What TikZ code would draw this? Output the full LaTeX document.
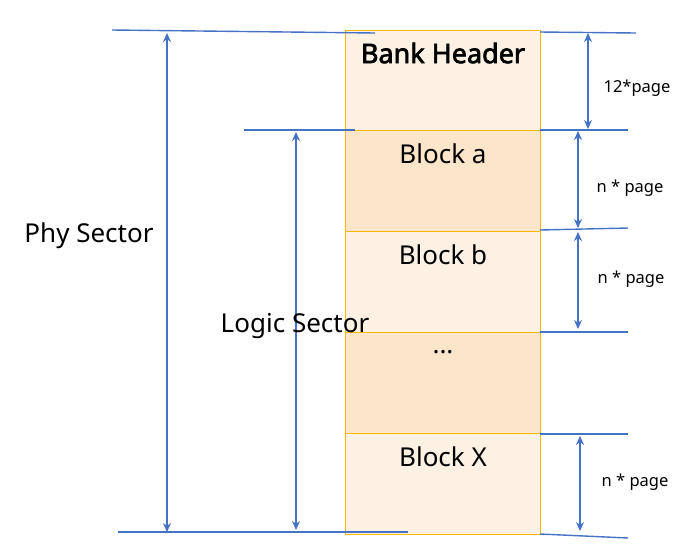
\documentclass[tikz,border=0pt]{standalone}
\usepackage{fontspec}
\setmainfont{Noto Sans}
\newfontfamily\hb{Noto Sans}[FakeBold=2.5]
\usetikzlibrary{arrows.meta}
\definecolor{bl}{HTML}{4472C4}
\definecolor{lt}{HTML}{FDF1E3}
\definecolor{dk}{HTML}{FDE5C9}
\definecolor{og}{HTML}{F5B800}
\begin{document}
\begin{tikzpicture}[x=1pt,y=-1pt,
  cell/.style={draw=og,line width=1.3pt,minimum width=195pt,minimum height=101pt,anchor=north west,inner sep=0pt},
  ln/.style={draw=bl,line width=1.4pt},
  arr/.style={draw=bl,line width=1.4pt,{Stealth[length=9pt,width=8pt]}-{Stealth[length=9pt,width=8pt]}},
  big/.style={font=\fontsize{26}{29}\selectfont},
  sm/.style={font=\fontsize{16.5}{18}\selectfont}]
\useasboundingbox (0,0) rectangle (699,558);
\node[cell,fill=lt,minimum height=100pt] (h) at (345,30) {};
\node[cell,fill=dk] (a) at (345,130) {};
\node[cell,fill=lt] (b) at (345,231) {};
\node[cell,fill=dk] (d) at (345,332) {};
\node[cell,fill=lt] (x) at (345,433) {};
\node[font=\hb\fontsize{27}{30}\selectfont] (th) at (443,53) {Bank Header};
\node[big] (ta) at (443,154) {Block a};
\node[big] (tb) at (443,255) {Block b};
\node[big] (td) at (443,352) {...};
\node[big] (tx) at (443,457) {Block X};
\coordinate (t1) at (112,30); \coordinate (t2) at (375,33);
\coordinate (b1) at (118,532); \coordinate (b2) at (408,532);
\coordinate (l1) at (244,130); \coordinate (l2) at (355,130);
\draw[ln] (t1)--(t2); \draw[ln] (b1)--(b2); \draw[ln] (l1)--(l2);
\coordinate (r0a) at (540,32); \coordinate (r0b) at (636,33);
\coordinate (r1a) at (540,130); \coordinate (r1b) at (628,130);
\coordinate (r2a) at (540,230); \coordinate (r2b) at (628,228);
\coordinate (r3a) at (540,332); \coordinate (r3b) at (628,332);
\coordinate (r4a) at (540,434); \coordinate (r4b) at (628,434);
\coordinate (r5a) at (540,534); \coordinate (r5b) at (628,538);
\foreach \i in {0,...,5} \draw[ln] (r\i a)--(r\i b);
\coordinate (p1) at (167,33); \coordinate (p2) at (167,532);
\draw[arr] (p1)--(p2);
\coordinate (q1) at (296,132); \coordinate (q2) at (296,530);
\draw[arr] (q1)--(q2);
\coordinate (s1) at (588,33); \coordinate (s2) at (588,129); \draw[arr] (s1)--(s2);
\coordinate (s3) at (578,131); \coordinate (s4) at (578,228); \draw[arr] (s3)--(s4);
\coordinate (s5) at (578,232); \coordinate (s6) at (578,329); \draw[arr] (s5)--(s6);
\coordinate (s7) at (580,436); \coordinate (s8) at (580,531); \draw[arr] (s7)--(s8);
\node[big] (lp) at (89,236) {Phy Sector};
\node[big] (ll) at (295,326) {Logic Sector};
\node[sm] (n0) at (637,88) {12*page};
\node[sm] (n1) at (630,188) {n * page};
\node[sm] (n2) at (631,279) {n * page};
\node[sm] (n3) at (635,482) {n * page};
\end{tikzpicture}
\end{document}
